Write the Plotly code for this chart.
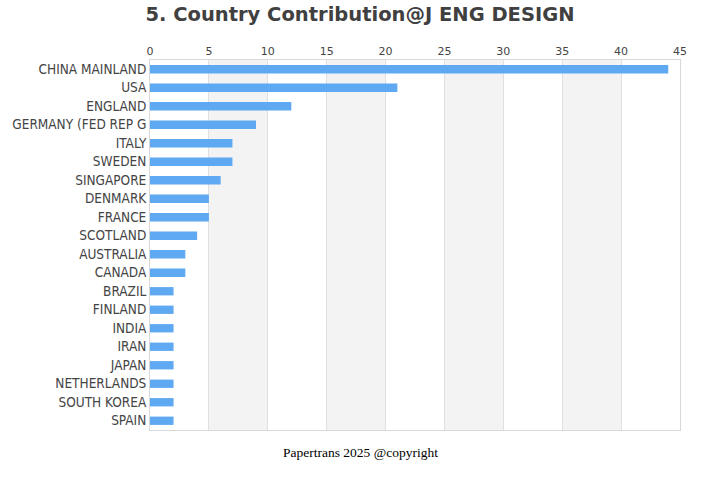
import plotly.graph_objects as go

countries = ["CHINA MAINLAND", "USA", "ENGLAND", "GERMANY (FED REP G", "ITALY", "SWEDEN",
             "SINGAPORE", "DENMARK", "FRANCE", "SCOTLAND", "AUSTRALIA", "CANADA",
             "BRAZIL", "FINLAND", "INDIA", "IRAN", "JAPAN", "NETHERLANDS", "SOUTH KOREA", "SPAIN"]
counts = [44, 21, 12, 9, 7, 7, 6, 5, 5, 4, 3, 3, 2, 2, 2, 2, 2, 2, 2, 2]
x_ticks = [0, 5, 10, 15, 20, 25, 30, 35, 40, 45]

fig = go.Figure(go.Bar(
    x=counts, y=countries, orientation="h",
    marker=dict(color="#5FA8F2", line=dict(width=0)),
    width=0.45,
))

shapes = []
for i in range(len(x_ticks) - 1):
    if i % 2 == 1:
        shapes.append(dict(type="rect", xref="x", yref="paper",
                           x0=x_ticks[i], x1=x_ticks[i + 1], y0=0, y1=1,
                           fillcolor="#F3F3F3", line=dict(width=0), layer="below"))

fig.update_layout(
    width=720, height=480,
    margin=dict(l=150, r=40, t=60, b=50),
    paper_bgcolor="white", plot_bgcolor="white",
    title=dict(text="<b>5. Country Contribution@J ENG DESIGN</b>",
               x=0.5, xanchor="center", y=0.97, yanchor="middle",
               font=dict(family="DejaVu Sans", size=19.5, color="#404040")),
    xaxis=dict(side="top", range=[0, 45], tickvals=x_ticks, showgrid=True,
               gridcolor="#E0E0E0", gridwidth=1, zeroline=False,
               showline=True, linecolor="#D9D9D9", mirror=True,
               ticks="", ticklen=0,
               tickfont=dict(family="DejaVu Sans", size=11, color="#444444")),
    yaxis=dict(autorange="reversed", showgrid=False, showline=True,
               linecolor="#D9D9D9", mirror=True, ticks="",
               tickfont=dict(family="DejaVu Sans Condensed, DejaVu Sans", size=13.5, color="#444444")),
    shapes=shapes,
    bargap=0.55,
    showlegend=False,
    annotations=[dict(text="Papertrans 2025 @copyright", xref="paper", yref="paper",
                      x=(360 - 150) / 530, y=-0.06, xanchor="center", yanchor="middle",
                      showarrow=False,
                      font=dict(family="Liberation Serif, Times New Roman", size=13.5, color="#000000"))],
)

fig.write_html("out.html")
